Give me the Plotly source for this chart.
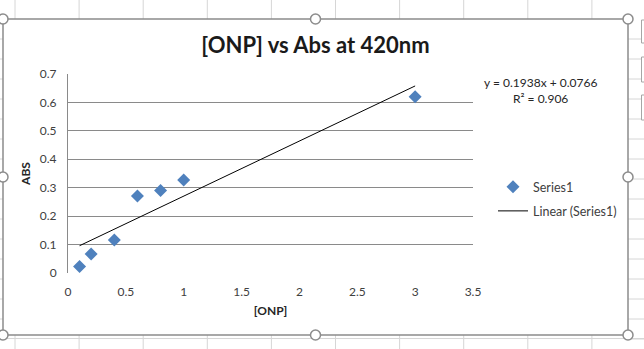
import plotly.graph_objects as go

# ONP standard curve: concentration vs absorbance at 420 nm
onp_conc = [0.1, 0.2, 0.4, 0.6, 0.8, 1.0, 3.0]
absorbance = [0.023, 0.067, 0.116, 0.271, 0.290, 0.327, 0.620]

# Linear trendline as reported on the chart
slope = 0.1938
intercept = 0.0766
r_squared = 0.906

x_ticks = [0, 0.5, 1, 1.5, 2, 2.5, 3, 3.5]
y_ticks = [0, 0.1, 0.2, 0.3, 0.4, 0.5, 0.6, 0.7]

W, H = 644, 349
ML, MR, MT, MB = 68, 171, 74, 76
PW, PH = W - ML - MR, H - MT - MB


def px(x):
    return (x - ML) / PW


def py(y):
    return (H - MB - y) / PH


FONT = "Lato, 'Open Sans', sans-serif"
GRID = "#8a8a8a"
BLUE = "#4F81BD"

trend_x = [min(onp_conc), max(onp_conc)]
trend_y = [slope * v + intercept for v in trend_x]

fig = go.Figure()
fig.add_trace(go.Scatter(
    x=onp_conc, y=absorbance, mode="markers", name="Series1",
    marker=dict(symbol="diamond", size=10, color=BLUE),
    legendgroup="a",
))
fig.add_trace(go.Scatter(
    x=trend_x, y=trend_y, mode="lines", name="Linear (Series1)",
    line=dict(color="#000000", width=1),
    legendgroup="b",
))

shapes = []
sheet = "#d6d6d6"
# worksheet cell lines around the chart object
cols = [15 + 64.1 * i for i in range(10)]
for cx in cols:
    shapes.append(dict(type="line", xref="paper", yref="paper",
                       x0=px(cx), x1=px(cx), y0=py(0), y1=py(19),
                       line=dict(color=sheet, width=1)))
    shapes.append(dict(type="line", xref="paper", yref="paper",
                       x0=px(cx), x1=px(cx), y0=py(335), y1=py(349),
                       line=dict(color=sheet, width=1)))
for ry in [39 + 20 * i for i in range(16)]:
    shapes.append(dict(type="line", xref="paper", yref="paper",
                       x0=px(0), x1=px(3), y0=py(ry), y1=py(ry),
                       line=dict(color=sheet, width=1)))
    shapes.append(dict(type="line", xref="paper", yref="paper",
                       x0=px(628), x1=px(644), y0=py(ry), y1=py(ry),
                       line=dict(color=sheet, width=1)))
shapes.append(dict(type="line", xref="paper", yref="paper",
                   x0=px(0), x1=px(644), y0=py(338.5), y1=py(338.5),
                   line=dict(color=sheet, width=1)))
# neighbouring objects peeking in at the right edge
for top, bot in [(20, 43), (57, 82), (95, 120)]:
    shapes.append(dict(type="rect", xref="paper", yref="paper",
                       x0=px(641.5), x1=px(660), y0=py(bot), y1=py(top),
                       line=dict(color="#a6a6a6", width=1), fillcolor="white"))

# chart area border
shapes.append(dict(type="rect", xref="paper", yref="paper",
                   x0=px(3), x1=px(628), y0=py(335), y1=py(19),
                   line=dict(color="#8c8c8c", width=1.5)))
# selection handles
r = 5
for hx, hy in [(3, 19), (315.5, 19), (628, 19), (3, 177), (628, 177),
               (3, 335), (315.5, 335), (628, 335)]:
    shapes.append(dict(type="circle", xref="paper", yref="paper",
                       x0=px(hx - r), x1=px(hx + r), y0=py(hy + r), y1=py(hy - r),
                       line=dict(color="#8c8c8c", width=1.5), fillcolor="white"))

eq_text = (f"y = {slope:.4f}x + {intercept:.4f}<br>"
           f"R² = {r_squared:.3f}")

fig.update_layout(
    width=W, height=H,
    margin=dict(l=ML, r=MR, t=MT, b=MB, pad=0),
    paper_bgcolor="white", plot_bgcolor="white",
    font=dict(family=FONT, size=12, color="#404040"),
    title=dict(text="<b>[ONP] vs Abs at 420nm</b>",
               font=dict(family=FONT, size=22, color="#1a1a1a"),
               x=px(315.5), xref="paper", xanchor="center",
               y=1 - 45 / H, yanchor="middle"),
    xaxis=dict(range=[0, 3.5], tickvals=x_ticks, showgrid=False,
               zeroline=False, showline=False,
               ticks="outside", ticklen=8, tickcolor="rgba(0,0,0,0)",
               tickfont=dict(size=12, color="#404040"),
               title=dict(text="<b>[ONP]</b>", font=dict(size=12, color="#262626"),
                          standoff=8)),
    yaxis=dict(range=[0, 0.7], tickvals=y_ticks, showgrid=True,
               gridcolor=GRID, gridwidth=1, zeroline=False,
               showline=True, linecolor=GRID, linewidth=1,
               ticks="outside", ticklen=8, tickcolor="rgba(0,0,0,0)",
               tickfont=dict(size=12, color="#404040"),
               title=dict(text="<b>ABS</b>", font=dict(size=12, color="#262626"),
                          standoff=6)),
    showlegend=True,
    legend=dict(x=px(493), xanchor="left", y=py(172), yanchor="top",
                font=dict(size=12.5, color="#404040"),
                traceorder="grouped", tracegroupgap=5,
                itemwidth=30, bgcolor="rgba(0,0,0,0)"),
    shapes=shapes,
    annotations=[dict(text=eq_text, xref="paper", yref="paper",
                      x=px(540), y=py(90), xanchor="center", yanchor="middle",
                      align="center", showarrow=False,
                      font=dict(size=12, color="#262626"))],
)

fig.write_html("out.html")
